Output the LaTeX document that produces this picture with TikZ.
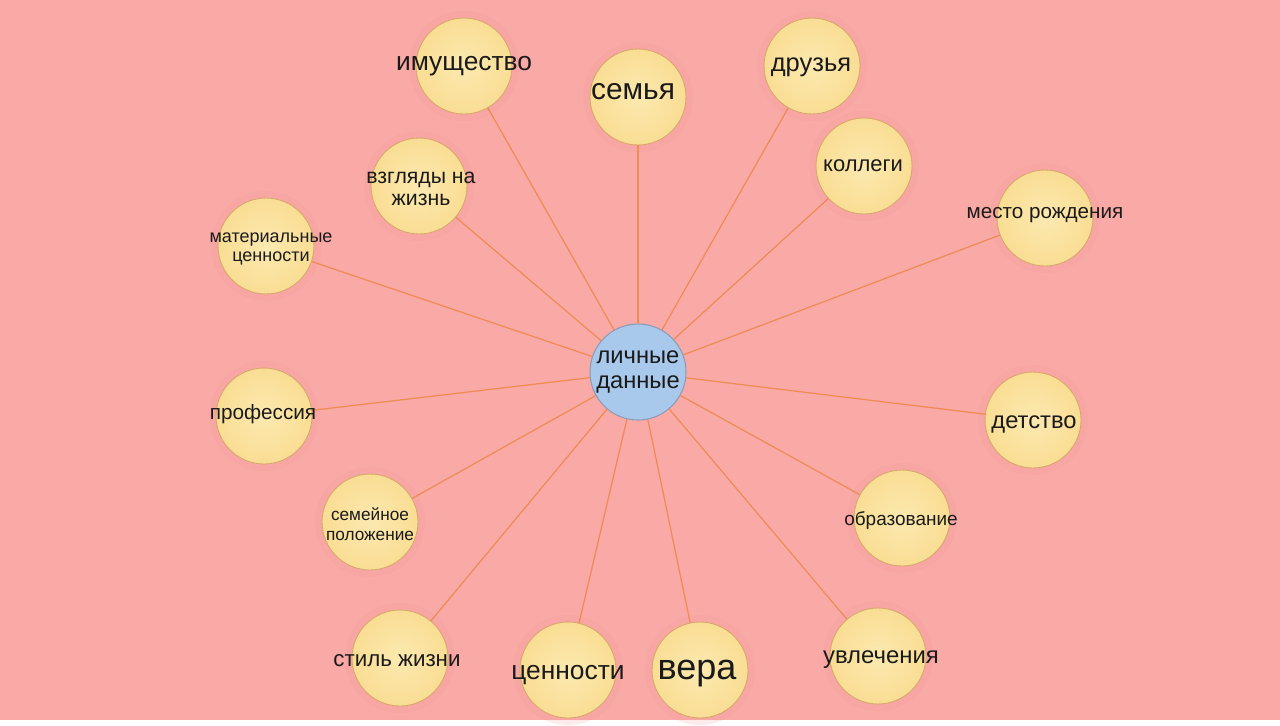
\documentclass[tikz,border=0pt]{standalone}
\usepackage{fontspec}
\setmainfont{Liberation Sans}
\definecolor{bgpink}{HTML}{F9A9A6}
\definecolor{bubin}{HTML}{FCE9B0}
\definecolor{bubout}{HTML}{F9DD93}
\definecolor{bubline}{HTML}{D8A76C}
\definecolor{halo}{HTML}{F09A98}
\definecolor{hubfill}{HTML}{A9C9EC}
\definecolor{hubline}{HTML}{8C9CB6}
\definecolor{linkcol}{HTML}{EE8C55}
\definecolor{txtcol}{HTML}{1A1A1A}
\begin{document}
\begin{tikzpicture}[x=0.02cm,y=-0.02cm,
  bubble/.style={circle,draw=bubline,line width=0.5pt,inner color=bubin,outer color=bubout,
    minimum size=1.92cm,inner sep=0,preaction={draw=halo,line width=8pt,opacity=0.2}},
  hub/.style={circle,draw=hubline,line width=0.6pt,fill=hubfill,minimum size=1.92cm,inner sep=0},
  link/.style={draw=linkcol,line width=0.7pt},
  word/.style={text=txtcol,align=center,inner sep=0}]
\fill[bgpink] (0,0) rectangle (1280,720);
\node[hub] (hub) at (638,372) {};
% bubbles
\foreach \n/\x/\y in {imu/464/66,sem/638/97,dru/812/66,kol/864/166,mes/1045/218,vzg/419/186,
  mat/266/246,pro/264/416,det/1033/420,sep/370/522,obr/902/518,sti/400/658,cen/568/670,ver/700/670,uvl/878/656}
{
\node[bubble] (\n) at (\x,\y) {};
\draw[link] (hub)--(\n);
}
% texts
\foreach \n/\x/\y/\s/\b/\t in {imu/464/66/15/18/имущество,sem/633/92/17/20/семья,dru/811/67/14.5/17/друзья,
  kol/863/166/12.5/15/коллеги,mes/1045/215/11.75/13/место рождения,vzg/421/189/12.1/12.8/{взгляды на\\жизнь},
  mat/271/249/10.25/10.8/{материальные\\ценности},pro/263/414/11.8/13/профессия,det/1034/424/13.5/15/детство,
  sep/370/524/9.8/11.3/{семейное\\положение},obr/901/520/10.8/12/образование,sti/397/661/12.7/14/стиль жизни,
  cen/568/675/15/18/ценности,ver/697/674/20.5/23/вера,uvl/881/660/13.6/15/увлечения}
{
\node[word,font=\fontsize{\s}{\b}\selectfont] (\n-t) at (\x,\y) {\t};
}
\node[word,font=\fontsize{13.5}{14.7}\selectfont] (hub-t) at (638,372) {личные\\данные};
\end{tikzpicture}
\end{document}
